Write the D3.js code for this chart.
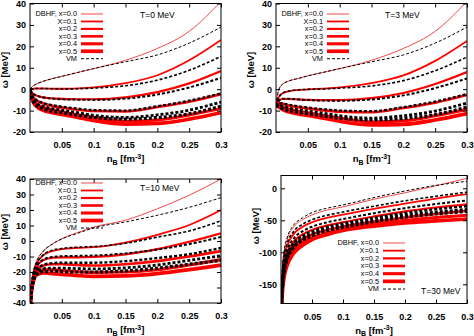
<!DOCTYPE html>
<html>
<head>
<meta charset="utf-8">
<script src="https://cdn.jsdelivr.net/npm/d3@7"></script>
<style>
body { margin: 0; background: #fff; }
svg { display: block; font-family: "Liberation Sans", Arial, sans-serif; }
</style>
</head>
<body>
<svg width="474" height="336"></svg>
<script>
// baryon density grid, fm^-3
const nB = [0.0005, 0.002, 0.005, 0.01, 0.02, 0.035, 0.05, 0.075, 0.1, 0.15, 0.2, 0.25, 0.3];

const legendLabels = ["DBHF, x=0.0", "X=0.1", "x=0.2", "x=0.3", "x=0.4", "x=0.5", "VM"];

// omega [MeV], one row per proton fraction x = 0.0 ... 0.5
const dbhfT0 = [
  [0.1, 0.7, 1.5, 2.4, 3.6, 4.9, 6.0, 7.8, 9.6, 13.5, 19, 27, 41],
  [0, 0.1, 0.2, 0.3, 0.3, 0.2, 0.2, 0.4, 0.8, 2.8, 6.5, 13.5, 23],
  [-0.3, -1.2, -2.2, -3.0, -3.8, -4.3, -4.5, -4.7, -4.7, -3.8, -1.4, 2.7, 8.5],
  [-0.6, -2.2, -3.8, -5.2, -6.6, -7.8, -8.6, -9.6, -10.2, -10.4, -8.3, -5.9, -2.3],
  [-0.8, -3, -5, -6.8, -8.4, -9.6, -10.5, -12, -13.2, -15, -14.4, -12, -9],
  [-1, -3.5, -6, -8, -9.8, -11, -11.8, -13.2, -14.6, -16.3, -16.0, -14.0, -11.0]
];
const vmT0 = [
  [0.1, 0.7, 1.5, 2.4, 3.6, 4.9, 6.0, 7.8, 9.6, 12.8, 16, 21.5, 29],
  [0, 0.1, 0.2, 0.3, 0.3, 0.2, 0.1, 0.2, 0.5, 1.6, 4.2, 8.8, 15.3],
  [-0.3, -1.2, -2.2, -3.0, -3.8, -4.4, -4.7, -4.9, -5.0, -4.4, -2.5, 0.8, 5.3],
  [-0.6, -2.2, -3.7, -5.0, -6.4, -7.5, -8.2, -9.1, -9.8, -10.0, -8.0, -5.4, -2.0],
  [-0.8, -3, -4.8, -6.5, -8, -9.1, -9.8, -11, -12.2, -13.2, -12, -9.8, -6],
  [-1, -3.5, -5.8, -7.6, -9.2, -10.3, -11.0, -12.2, -13.2, -14.0, -13.3, -11.5, -8.0]
];

const dbhfT3 = [
  [-7.5, -3.5, 0.2, 2.2, 3.8, 5.0, 6.2, 7.9, 9.6, 13.5, 19, 27, 41],
  [-7.8, -5.5, -3.5, -2.0, -1.0, -0.4, -0.1, 0.3, 0.8, 2.8, 6.4, 13.2, 22.5],
  [-8, -6.5, -5.2, -4.6, -4.6, -4.8, -5.0, -5.1, -5.1, -4.2, -1.8, 2.4, 8.0],
  [-8.2, -7.2, -6.6, -6.8, -7.6, -8.4, -9.0, -9.9, -10.5, -10.8, -8.8, -6.3, -2.7],
  [-8.3, -7.6, -7.6, -8.3, -9.3, -10.3, -11.0, -12.3, -13.5, -15.3, -14.8, -12.4, -9.4],
  [-8.4, -8, -8.4, -9.4, -10.6, -11.6, -12.3, -13.6, -15.0, -16.7, -16.4, -14.4, -11.4]
];
const vmT3 = [
  [-7.5, -3.5, 0.2, 2.2, 3.8, 5.0, 6.2, 7.9, 9.6, 12.8, 16, 21.5, 29],
  [-7.8, -5.5, -3.5, -2.0, -0.9, -0.3, -0.1, 0.1, 0.5, 1.5, 4.0, 8.6, 15],
  [-8, -6.5, -5.2, -4.5, -4.5, -4.8, -5.1, -5.3, -5.4, -4.8, -2.9, 0.5, 5.0],
  [-8.2, -7.2, -6.6, -6.7, -7.3, -8.0, -8.6, -9.4, -10.0, -10.3, -8.4, -5.8, -2.3],
  [-8.3, -7.6, -7.4, -8.0, -8.8, -9.6, -10.2, -11.3, -12.4, -13.5, -12.4, -10.2, -6.5],
  [-8.4, -8, -8.2, -9.0, -10.0, -10.8, -11.4, -12.5, -13.5, -14.4, -13.7, -11.9, -8.4]
];

const dbhfT10 = [
  [-44, -30, -20.5, -13.5, -7, -2, 1.5, 5.5, 9, 13.4, 20.8, 29.5, 40],
  [-44, -31, -21.5, -15, -9.5, -6.5, -5.2, -4.5, -4.0, -1.0, 4.0, 10.3, 20],
  [-44, -32, -23, -17, -12.5, -10.8, -10.5, -10.5, -10.3, -8.6, -5.2, -0.5, 5],
  [-44, -33, -24.5, -19, -16, -15, -15, -15.5, -15.8, -15, -13, -10, -6.5],
  [-44, -33.5, -25.5, -20.5, -18.5, -18.5, -19, -19.8, -20.3, -20, -18.5, -15.5, -12],
  [-44, -34, -26.5, -22, -20.5, -21, -21.5, -22.3, -22.8, -22.5, -21, -18.5, -15.5]
];
const vmT10 = [
  [-44, -30, -20.5, -13.5, -7, -2, 1.3, 5.0, 8.4, 12.3, 16.6, 21.7, 28],
  [-44, -31, -21.5, -15, -9.3, -6.0, -4.8, -4.0, -3.6, -1.5, 2.5, 6.5, 13],
  [-44, -32, -23, -17, -12.2, -10.3, -9.8, -9.6, -9.4, -8.0, -5.5, -2.0, 2.6],
  [-44, -33, -24.5, -19, -15.5, -14.3, -14.0, -14.0, -14.0, -13, -11, -8.5, -4.5],
  [-44, -33.5, -25.5, -20.5, -18, -17.5, -17.5, -17.8, -18, -17.3, -15.5, -12.5, -9.5],
  [-44, -34, -26.5, -21.8, -19.8, -19.5, -19.7, -20, -20, -19.3, -17.5, -15, -12.5]
];

const dbhfT30 = [
  [-182, -131, -101, -80, -61, -49, -41.5, -34, -29, -17, -7, 4, 15.6],
  [-188, -139, -110, -90, -72, -60, -53, -46, -41, -32, -24, -16, -9],
  [-196, -150, -122, -102, -84, -72, -65, -58, -53, -44, -36, -30, -25],
  [-200, -156, -128, -109, -91, -79, -72, -65, -60, -52, -45.5, -40, -35],
  [-204, -161, -134, -114, -97, -84, -77, -70, -64, -56, -50, -45.5, -42],
  [-208, -166, -139, -120, -102, -89, -80, -72, -66, -59, -54, -51, -48]
];
const vmT30 = [
  [-180, -128, -98, -77, -58, -46, -38, -31, -26, -14.5, -4.2, 4.5, 11],
  [-185, -135, -106, -86, -68, -56, -49, -42, -37, -28, -19.5, -12.5, -6],
  [-193, -146, -117, -97, -79, -67, -60, -53, -48, -39, -31, -24.5, -19],
  [-197, -152, -124, -104, -86, -74, -67, -60, -55, -46, -38.5, -32.5, -28],
  [-200, -155, -128, -108, -90, -78, -71, -63, -58, -49.5, -42, -37, -33],
  [-203, -158, -131, -111, -93, -81, -74, -66, -61, -52, -45, -40, -36]
];

const xTicks = [0.05, 0.1, 0.15, 0.2, 0.25, 0.3];
const yTicksLow = [-20, -10, 0, 10, 20, 30, 40];
const yTicksT10 = [-40, -30, -20, -10, 0, 10, 20, 30, 40];
const yTicksT30 = [-150, -100, -50, 0];

const svg = d3.select("svg");

const redWidths = [1, 1.8, 2.2, 2.6, 3.1, 3.7];
const vmWidths = [1, 1.6, 2, 2.4, 2.8, 3.2];

const panels = [
  {id: "p0", dbhf: dbhfT0, vm: vmT0, yDomain: [-20, 40], yTicks: yTicksLow, temp: "T=0 MeV",
   left: 30, right: 221, top: 3.5, bottom: 132, yTitleY: 70, tempX: 140, tempY: 18,
   legX: 77, legY: 14, legStep: 7.45},
  {id: "p1", dbhf: dbhfT3, vm: vmT3, yDomain: [-20, 40], yTicks: yTicksLow, temp: "T=3 MeV",
   left: 276, right: 467, top: 3.5, bottom: 132, yTitleY: 70, tempX: 385, tempY: 18,
   legX: 323, legY: 14, legStep: 7.45},
  {id: "p2", dbhf: dbhfT10, vm: vmT10, yDomain: [-40, 40], yTicks: yTicksT10, temp: "T=10 MeV",
   left: 30, right: 221, top: 179, bottom: 303, yTitleY: 232, tempX: 140, tempY: 191,
   legX: 77, legY: 183, legStep: 7.5},
  {id: "p3", dbhf: dbhfT30, vm: vmT30, yDomain: [-180, 20], yTicks: yTicksT30, temp: "T=30 MeV",
   left: 281, right: 467, top: 175.5, bottom: 303.5, yTitleY: 226, tempX: 421, tempY: 294,
   legX: 379, legY: 243, legStep: 7.67}
];

function drawPanel(p) {
  const x = d3.scaleLinear().domain([0, 0.3]).range([p.left, p.right]);
  const y = d3.scaleLinear().domain(p.yDomain).range([p.bottom, p.top]);
  const g = svg.append("g");

  g.append("clipPath").attr("id", "clip-" + p.id)
    .append("rect")
    .attr("x", p.left).attr("y", p.top)
    .attr("width", p.right - p.left).attr("height", p.bottom - p.top);

  const line = d3.line()
    .curve(d3.curveMonotoneX)
    .x(function(d, i) { return x(nB[i]); })
    .y(function(d) { return y(d); });

  const curves = g.append("g").attr("clip-path", "url(#clip-" + p.id + ")");

  p.dbhf.forEach(function(s, i) {
    curves.append("path")
      .attr("d", line(s))
      .attr("fill", "none")
      .attr("stroke", i === 0 ? "#f04848" : "#f00")
      .attr("stroke-width", redWidths[i]);
  });
  p.vm.forEach(function(s, i) {
    curves.append("path")
      .attr("d", line(s))
      .attr("fill", "none")
      .attr("stroke", "#000")
      .attr("stroke-width", vmWidths[i])
      .attr("stroke-dasharray", "3,2");
  });

  // inward ticks on all four sides
  const bottomAxis = g.append("g")
    .attr("transform", "translate(0," + p.bottom + ")")
    .call(d3.axisBottom(x).tickValues(xTicks).tickSizeInner(-4).tickSizeOuter(0)
      .tickPadding(10).tickFormat(function(d) { return String(d); }));
  g.append("g")
    .attr("transform", "translate(0," + p.top + ")")
    .call(d3.axisTop(x).tickValues(xTicks).tickSizeInner(-4).tickSizeOuter(0).tickFormat(""));
  const leftAxis = g.append("g")
    .attr("transform", "translate(" + p.left + ",0)")
    .call(d3.axisLeft(y).tickValues(p.yTicks).tickSizeInner(-4).tickSizeOuter(0)
      .tickPadding(4).tickFormat(function(d) { return String(d); }));
  g.append("g")
    .attr("transform", "translate(" + p.right + ",0)")
    .call(d3.axisRight(y).tickValues(p.yTicks).tickSizeInner(-4).tickSizeOuter(0).tickFormat(""));

  g.selectAll(".domain").remove();
  g.selectAll(".tick line").attr("stroke", "#000");
  [bottomAxis, leftAxis].forEach(function(a) {
    a.selectAll("text")
      .style("font", "bold 9px 'Liberation Sans', Arial, sans-serif")
      .attr("fill", "#000");
  });

  g.append("rect")
    .attr("x", p.left).attr("y", p.top)
    .attr("width", p.right - p.left).attr("height", p.bottom - p.top)
    .attr("fill", "none").attr("stroke", "#000").attr("stroke-width", 1);

  // axis titles
  const xt = g.append("text")
    .attr("x", (p.left + p.right) / 2)
    .attr("y", p.bottom + 30)
    .attr("text-anchor", "middle")
    .style("font", "bold 9.5px 'Liberation Sans', Arial, sans-serif");
  xt.append("tspan").text("n");
  xt.append("tspan").attr("dy", 2.5).style("font-size", "7px").text("B");
  xt.append("tspan").attr("dy", -2.5).text(" [fm");
  xt.append("tspan").attr("dy", -3.5).style("font-size", "7px").text("-3");
  xt.append("tspan").attr("dy", 3.5).text("]");

  g.append("text")
    .attr("transform", "translate(" + (p.left - 22) + "," + p.yTitleY + ") rotate(-90)")
    .attr("text-anchor", "middle")
    .style("font", "bold 9.5px 'Liberation Sans', Arial, sans-serif")
    .text("\u03c9 [MeV]");

  g.append("text")
    .attr("x", p.tempX).attr("y", p.tempY)
    .style("font", "8.5px 'Liberation Sans', Arial, sans-serif")
    .text(p.temp);

  // key: rows are tight, so the text is set small and stretched sideways
  legendLabels.forEach(function(lab, i) {
    const ly = p.legY + i * p.legStep;
    const t = g.append("text")
      .attr("x", p.legX).attr("y", ly + 2.4)
      .attr("text-anchor", "end")
      .style("font", "6.5px 'Liberation Sans', Arial, sans-serif")
      .text(lab);
    const w = t.node().getComputedTextLength();
    t.attr("textLength", w * 1.13).attr("lengthAdjust", "spacingAndGlyphs");
    const seg = g.append("line")
      .attr("x1", p.legX + 4).attr("x2", p.legX + 26)
      .attr("y1", ly).attr("y2", ly);
    if (i < 6) {
      seg.attr("stroke", i === 0 ? "#f04848" : "#f00").attr("stroke-width", redWidths[i]);
    } else {
      seg.attr("stroke", "#000").attr("stroke-width", 1).attr("stroke-dasharray", "3,2");
    }
  });
}

panels.forEach(drawPanel);
</script>
</body>
</html>
